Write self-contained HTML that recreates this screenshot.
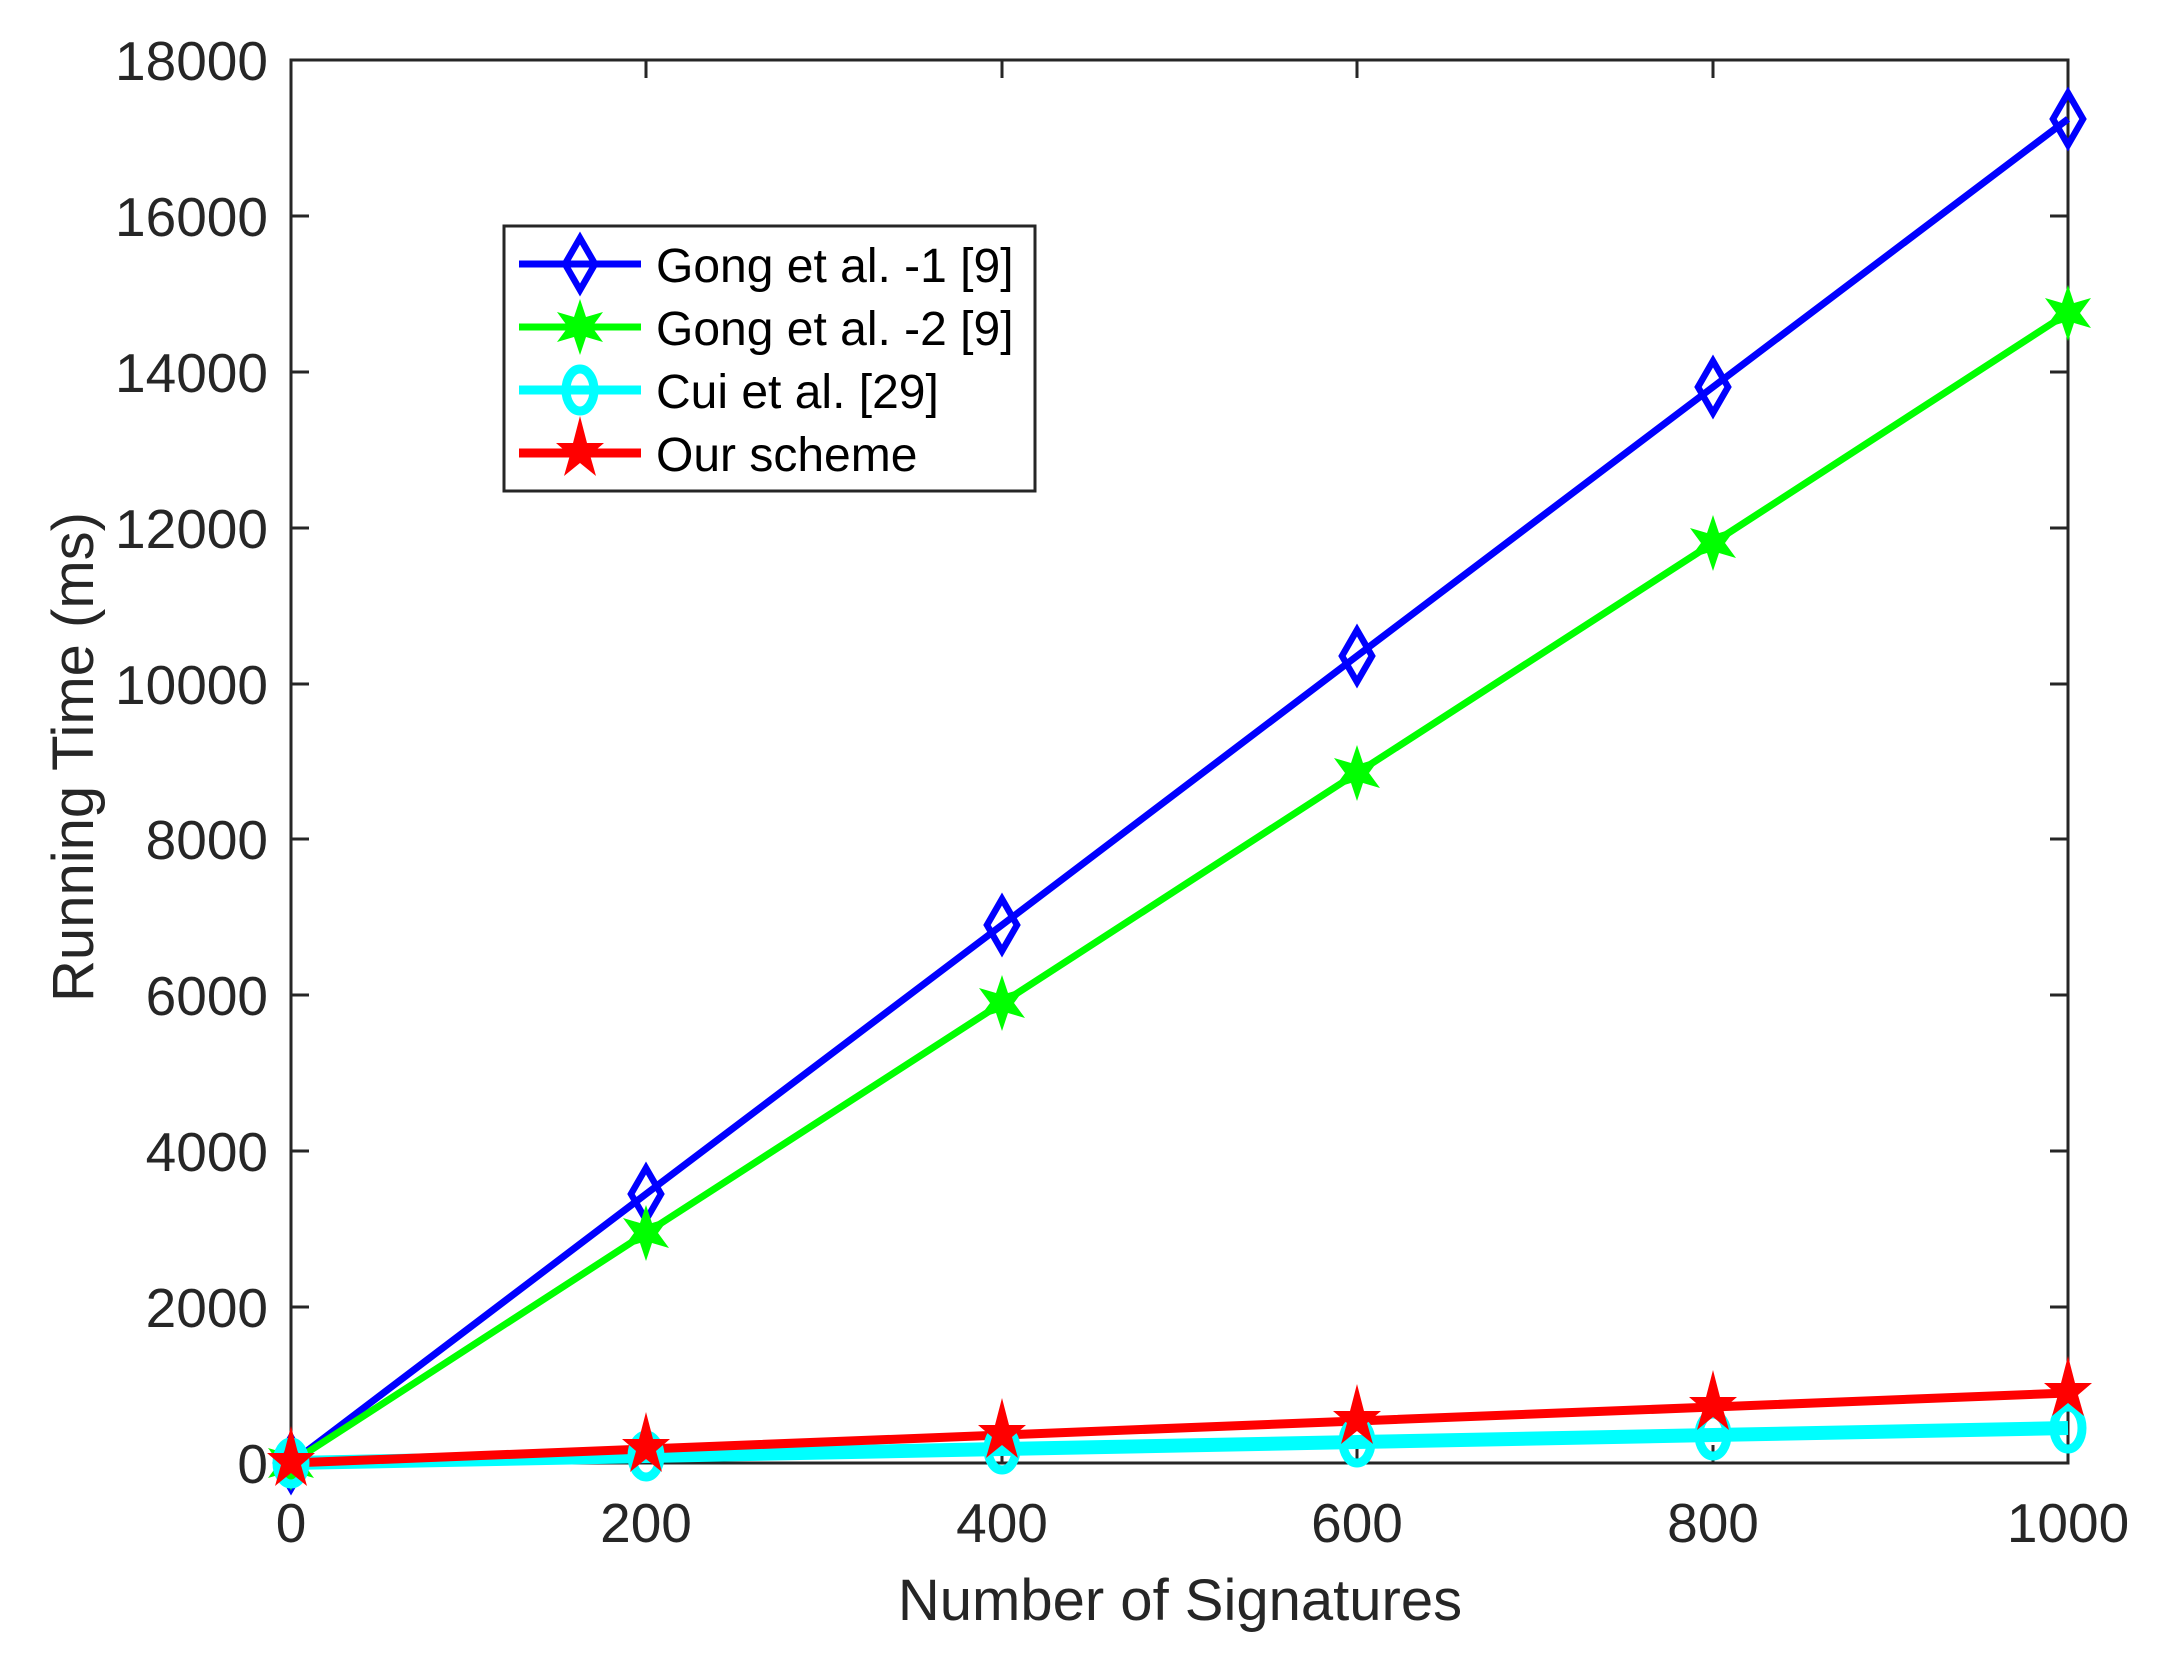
<!DOCTYPE html>
<html><head><meta charset="utf-8"><style>
html,body{margin:0;padding:0;background:#fff;}
svg{display:block;font-family:"Liberation Sans",Arial,sans-serif;}
</style></head><body>
<svg width="2169" height="1654" viewBox="0 0 2169 1654" xmlns="http://www.w3.org/2000/svg">
<rect width="2169" height="1654" fill="#fff"/>
<defs>
<path id="dia" d="M0,-26 L15,0 L0,26 L-15,0 Z" fill="none" stroke="#0000ff" stroke-width="6.5"/>
<polygon id="hex" points="0,-28 6,-10 23,-15 12,0 23,15 6,10 0,28 -6,10 -23,15 -12,0 -23,-15 -6,-10" fill="#00ff00"/>
<ellipse id="cir" rx="14" ry="21" fill="none" stroke="#00ffff" stroke-width="9"/>
<polygon id="star" points="0,-37 7,-10 24,-10 10,2 16,23 0,10 -16,23 -10,2 -24,-10 -7,-10" fill="#ff0000"/>
</defs>
<rect x="291" y="60" width="1777" height="1403" fill="none" stroke="#262626" stroke-width="3"/>
<g stroke="#262626" stroke-width="3">
<line x1="646" y1="60" x2="646" y2="78"/><line x1="1002" y1="60" x2="1002" y2="78"/><line x1="1357" y1="60" x2="1357" y2="78"/><line x1="1713" y1="60" x2="1713" y2="78"/>
<line x1="646" y1="1463" x2="646" y2="1445"/><line x1="1002" y1="1463" x2="1002" y2="1445"/><line x1="1357" y1="1463" x2="1357" y2="1445"/><line x1="1713" y1="1463" x2="1713" y2="1445"/>
<line x1="291" y1="216" x2="309" y2="216"/><line x1="291" y1="372" x2="309" y2="372"/><line x1="291" y1="528" x2="309" y2="528"/><line x1="291" y1="684" x2="309" y2="684"/><line x1="291" y1="839" x2="309" y2="839"/><line x1="291" y1="995" x2="309" y2="995"/><line x1="291" y1="1151" x2="309" y2="1151"/><line x1="291" y1="1307" x2="309" y2="1307"/>
<line x1="2068" y1="216" x2="2050" y2="216"/><line x1="2068" y1="372" x2="2050" y2="372"/><line x1="2068" y1="528" x2="2050" y2="528"/><line x1="2068" y1="684" x2="2050" y2="684"/><line x1="2068" y1="839" x2="2050" y2="839"/><line x1="2068" y1="995" x2="2050" y2="995"/><line x1="2068" y1="1151" x2="2050" y2="1151"/><line x1="2068" y1="1307" x2="2050" y2="1307"/>
</g>
<g font-size="55" fill="#262626" text-anchor="end">
<text x="268" y="80">18000</text><text x="268" y="236">16000</text><text x="268" y="392">14000</text><text x="268" y="548">12000</text><text x="268" y="704">10000</text><text x="268" y="859">8000</text><text x="268" y="1015">6000</text><text x="268" y="1171">4000</text><text x="268" y="1327">2000</text><text x="268" y="1483">0</text>
</g>
<g font-size="55" fill="#262626" text-anchor="middle">
<text x="291" y="1542">0</text><text x="646" y="1542">200</text><text x="1002" y="1542">400</text><text x="1357" y="1542">600</text><text x="1713" y="1542">800</text><text x="2068" y="1542">1000</text>
</g>
<text x="1180" y="1620" font-size="58" fill="#262626" text-anchor="middle">Number of Signatures</text>
<text transform="translate(93,757) rotate(-90)" font-size="58" fill="#262626" text-anchor="middle">Running Time (ms)</text>
<polyline points="291,1463 646,1194 1002,925 1357,656 1713,387 2068,119" fill="none" stroke="#0000ff" stroke-width="7"/>
<polyline points="291,1463 646,1233 1002,1003 1357,773 1713,543 2068,313" fill="none" stroke="#00ff00" stroke-width="7"/>
<polyline points="291,1463 646,1456 1002,1449 1357,1442 1713,1435 2068,1428" fill="none" stroke="#00ffff" stroke-width="14"/>
<polyline points="291,1463 646,1449 1002,1435 1357,1421 1713,1407 2068,1393" fill="none" stroke="#ff0000" stroke-width="9"/>
<use href="#dia" x="291" y="1463"/><use href="#dia" x="646" y="1194"/><use href="#dia" x="1002" y="925"/><use href="#dia" x="1357" y="656"/><use href="#dia" x="1713" y="387"/><use href="#dia" x="2068" y="119"/>
<use href="#hex" x="291" y="1463"/><use href="#hex" x="646" y="1233"/><use href="#hex" x="1002" y="1003"/><use href="#hex" x="1357" y="773"/><use href="#hex" x="1713" y="543"/><use href="#hex" x="2068" y="313"/>
<use href="#cir" x="291" y="1463"/><use href="#cir" x="646" y="1456"/><use href="#cir" x="1002" y="1449"/><use href="#cir" x="1357" y="1442"/><use href="#cir" x="1713" y="1435"/><use href="#cir" x="2068" y="1428"/>
<use href="#star" x="291" y="1463"/><use href="#star" x="646" y="1449"/><use href="#star" x="1002" y="1435"/><use href="#star" x="1357" y="1421"/><use href="#star" x="1713" y="1407"/><use href="#star" x="2068" y="1393"/>
<rect x="504" y="226" width="531" height="265" fill="#fff" stroke="#262626" stroke-width="3"/>
<line x1="519" y1="264" x2="641" y2="264" stroke="#0000ff" stroke-width="7"/><use href="#dia" x="580" y="264"/>
<line x1="519" y1="327" x2="641" y2="327" stroke="#00ff00" stroke-width="7"/><use href="#hex" x="580" y="327"/>
<line x1="519" y1="390" x2="641" y2="390" stroke="#00ffff" stroke-width="9"/><use href="#cir" x="580" y="390"/>
<line x1="519" y1="453" x2="641" y2="453" stroke="#ff0000" stroke-width="9"/><use href="#star" x="580" y="453"/>
<g font-size="48" fill="#000">
<text x="656" y="282">Gong et al. -1 [9]</text>
<text x="656" y="345">Gong et al. -2 [9]</text>
<text x="656" y="408">Cui et al. [29]</text>
<text x="656" y="471">Our scheme</text>
</g>
</svg>
</body></html>
